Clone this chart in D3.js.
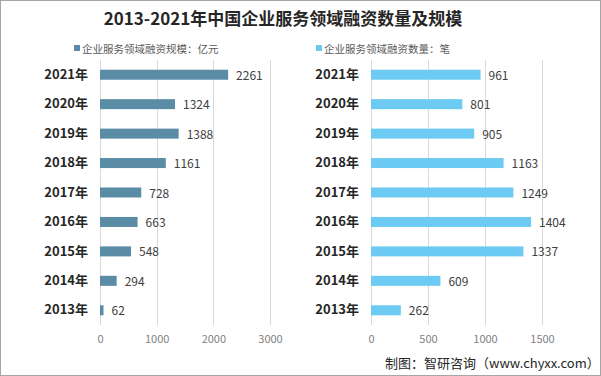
<!DOCTYPE html>
<html lang="zh">
<head>
    <meta charset="UTF-8">
    <title>2013-2021年中国企业服务领域融资数量及规模</title>
</head>
<style>
    body { margin: 0; background: #fff; }
    svg text { font-family: "Noto Sans CJK SC", "Noto Sans", sans-serif; }
    .grid line { stroke: #d9d9d9; stroke-width: 1; shape-rendering: crispEdges; }
    .axis path, .axis line { display: none; }
    .axis text { font-size: 11px; fill: #7f7f7f; }
    .year text { font-size: 13px; font-weight: bold; fill: #262626; }
    .val { font-size: 12px; fill: #404040; }
    .legend { font-size: 10.5px; fill: #595959; }
</style>
<body>
<svg class="chart"></svg>
<script src="https://cdn.jsdelivr.net/npm/d3@7"></script>
<script>
    // 数据
    var years = ['2013年','2014年','2015年','2016年','2017年','2018年','2019年','2020年','2021年']
    var scaleValues = [62,294,548,663,728,1161,1388,1324,2261]      // 融资规模：亿元
    var countValues = [262,609,1337,1404,1249,1163,905,801,961]     // 融资数量：笔
    var scaleTicks = [0,1000,2000,3000]
    var countTicks = [0,500,1000,1500]

    var W = 601, H = 376
    var svg = d3.select('.chart').attr('width',W).attr('height',H)

    // 边框
    svg.append('rect')
    .attr('x',0.5).attr('y',0.5)
    .attr('width',W-1).attr('height',H-1)
    .attr('fill','#fff')
    .attr('stroke','#a6a6a6')

    // 标题
    svg.append('text')
    .attr('x',283).attr('y',25)
    .attr('text-anchor','middle')
    .style('font-size','17px')
    .style('font-weight','bold')
    .style('fill','#262626')
    .text('2013-2021年中国企业服务领域融资数量及规模')

    var plotTop = 60, plotBottom = 325

    // 纵向比例尺，2021年在上
    var yScale = d3.scaleBand()
    .domain(years.slice().reverse())
    .range([plotTop,plotBottom])
    .paddingInner(0.66)
    .paddingOuter(0.33)

    function drawPanel(values, ticks, x0, x1, color, legend, legendX, labelX) {
        var xScale = d3.scaleLinear()
        .domain([0, ticks[ticks.length-1]])
        .range([x0, x1])

        var g = svg.append('g')

        // 网格线
        g.append('g').attr('class','grid')
        .selectAll('line')
        .data(ticks)
        .enter()
        .append('line')
        .attr('x1',function(d){ return Math.round(xScale(d)) + 0.5 })
        .attr('x2',function(d){ return Math.round(xScale(d)) + 0.5 })
        .attr('y1',plotTop)
        .attr('y2',plotBottom)

        // 横坐标轴
        var xAxis = d3.axisBottom(xScale).tickValues(ticks).tickFormat(d3.format('d')).tickSize(0).tickPadding(0)
        g.append('g')
        .attr('class','axis')
        .attr('transform','translate(0,335)')
        .call(xAxis)

        // 年份
        var yAxis = d3.axisLeft(yScale).tickSize(0).tickPadding(0)
        g.append('g')
        .attr('class','axis year')
        .attr('transform','translate(' + labelX + ',0)')
        .call(yAxis)

        // 柱子
        g.selectAll('.bar')
        .data(values)
        .enter()
        .append('rect')
        .attr('class','bar')
        .attr('x',xScale(0))
        .attr('y',function(d,i){ return yScale(years[i]) })
        .attr('width',function(d){ return xScale(d) - xScale(0) })
        .attr('height',yScale.bandwidth())
        .attr('fill',color)

        // 数值标签
        g.selectAll('.val')
        .data(values)
        .enter()
        .append('text')
        .attr('class','val')
        .attr('x',function(d){ return xScale(d) + 8 })
        .attr('y',function(d,i){ return yScale(years[i]) + yScale.bandwidth()/2 + 5 })
        .text(function(d){ return d })

        // 图例
        g.append('rect')
        .attr('x',legendX).attr('y',45)
        .attr('width',6).attr('height',6)
        .attr('fill',color)
        g.append('text')
        .attr('class','legend')
        .attr('x',legendX + 8).attr('y',52.5)
        .text(legend)
    }

    drawPanel(scaleValues, scaleTicks, 100, 270, '#5b8ca6', '企业服务领域融资规模：亿元', 74, 88)
    drawPanel(countValues, countTicks, 371, 542, '#6dcbf3', '企业服务领域融资数量：笔', 316, 359)

    // 来源
    svg.append('text')
    .attr('x',385).attr('y',368)
    .style('font-size','13px')
    .style('fill','#262626')
    .text('制图：智研咨询（www.chyxx.com）')
</script>
</body>
</html>
